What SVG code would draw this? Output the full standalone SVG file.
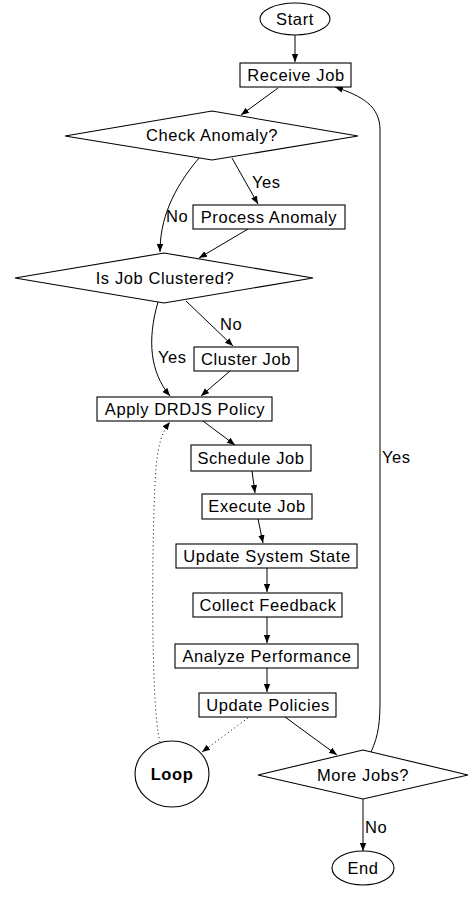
<svg xmlns="http://www.w3.org/2000/svg" width="474" height="917" viewBox="0 0 474 917">
<defs>
<marker id="ah" viewBox="0 0 10 10" refX="10" refY="5" markerWidth="8" markerHeight="8" markerUnits="userSpaceOnUse" orient="auto">
<path d="M0,1 L10,5 L0,9 z" fill="#000"/>
</marker>
</defs>
<style>
.n{fill:#fff;stroke:#000;stroke-width:1.1}
.t{font-family:"Liberation Sans",Arial,sans-serif;font-size:16.5px;letter-spacing:0.6px;fill:#000;text-anchor:middle}
.l{font-family:"Liberation Sans",Arial,sans-serif;font-size:16.5px;letter-spacing:0.6px;fill:#000}
.e{fill:none;stroke:#000;stroke-width:1;marker-end:url(#ah)}
.d{fill:none;stroke:#000;stroke-width:1;stroke-dasharray:1 3;marker-end:url(#ah)}
</style>
<rect width="474" height="917" fill="#fff"/>
<g id="connectors">
<path class="e" d="M295,35 L295,62"/>
<path class="e" d="M278,88 L241,115"/>
<path class="e" d="M232,158 L258,204"/>
<path class="e" d="M199,158 C172,190 160,220 160,252"/>
<path class="e" d="M248,229 L199,258"/>
<path class="e" d="M158,302 C147,340 150,372 170,396"/>
<path class="e" d="M186,301 L233,346"/>
<path class="e" d="M230,371 L201,396"/>
<path class="e" d="M203,421 L235,445"/>
<path class="e" d="M252,471 L255,493"/>
<path class="e" d="M258,519 L263,543"/>
<path class="e" d="M267,568 L267,592"/>
<path class="e" d="M267,617 L267,643"/>
<path class="e" d="M267,668 L267,692"/>
<path class="e" d="M285,717 L337,755"/>
<path class="d" d="M248,718 L202,752"/>
<path class="d" d="M160,742 C150,705 152,520 156,468 C158,445 162,432 170,422"/>
<path class="e" d="M363,799 L363,851"/>
<path class="e" d="M371,752 C379,735 380,720 380,700 L380,130 C380,106 362,96 335,87"/>
</g>
<g id="start"><ellipse class="n" cx="295" cy="19" rx="35" ry="16"/><text class="t" x="295" y="25">Start</text></g>
<g id="receive-job"><rect class="n" x="240" y="63" width="111" height="24"/><text class="t" x="296" y="81">Receive Job</text></g>
<g id="check-anomaly"><polygon class="n" points="65,136 212,111 358,136 212,160"/><text class="t" x="212" y="141">Check Anomaly?</text></g>
<g id="process-anomaly"><rect class="n" x="193" y="205" width="152" height="24"/><text class="t" x="269" y="223">Process Anomaly</text></g>
<g id="is-job-clustered"><polygon class="n" points="15,278 164,253 313,278 164,303"/><text class="t" x="165" y="284">Is Job Clustered?</text></g>
<g id="cluster-job"><rect class="n" x="194" y="347" width="104" height="24"/><text class="t" x="246" y="365">Cluster Job</text></g>
<g id="apply-drdjs"><rect class="n" x="97" y="397" width="175" height="24"/><text class="t" x="185" y="415">Apply DRDJS Policy</text></g>
<g id="schedule-job"><rect class="n" x="191" y="445" width="120" height="26"/><text class="t" x="251" y="464">Schedule Job</text></g>
<g id="execute-job"><rect class="n" x="202" y="494" width="110" height="25"/><text class="t" x="257" y="512">Execute Job</text></g>
<g id="update-system-state"><rect class="n" x="176" y="544" width="181" height="24"/><text class="t" x="267" y="562">Update System State</text></g>
<g id="collect-feedback"><rect class="n" x="193" y="593" width="149" height="24"/><text class="t" x="268" y="611">Collect Feedback</text></g>
<g id="analyze-performance"><rect class="n" x="175" y="644" width="183" height="24"/><text class="t" x="267" y="662">Analyze Performance</text></g>
<g id="update-policies"><rect class="n" x="199" y="693" width="137" height="24"/><text class="t" x="268" y="711">Update Policies</text></g>
<g id="loop"><ellipse class="n" cx="172" cy="774" rx="37" ry="33"/><text class="t" x="172" y="780" font-weight="bold">Loop</text></g>
<g id="more-jobs"><polygon class="n" points="258,775 363,750 468,775 363,799"/><text class="t" x="363" y="781">More Jobs?</text></g>
<g id="end"><ellipse class="n" cx="363" cy="868" rx="31" ry="17"/><text class="t" x="363" y="874">End</text></g>
<g id="labels">
<text class="l" x="252" y="188">Yes</text>
<text class="l" x="166" y="222">No</text>
<text class="l" x="158" y="363">Yes</text>
<text class="l" x="220" y="330">No</text>
<text class="l" x="382" y="463">Yes</text>
<text class="l" x="365" y="833">No</text>
</g>
</svg>
